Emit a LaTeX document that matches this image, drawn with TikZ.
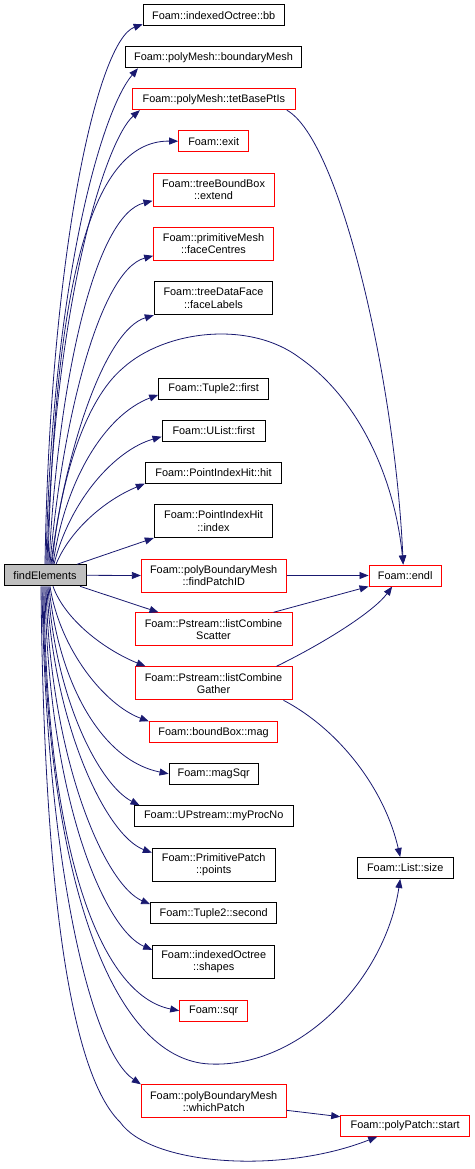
\documentclass[tikz,border=0pt]{standalone}
\usepackage{fontspec}
\setmainfont{Liberation Sans}
\usetikzlibrary{arrows.meta}
\definecolor{edgeblue}{HTML}{191970}
\definecolor{nodered}{HTML}{FF0000}

\begin{document}
\begin{tikzpicture}[x=1pt, y=-1pt,
    fn/.style={draw=black, line width=1pt, inner xsep=4pt, inner ysep=2pt,
        minimum height=21pt, align=center, font=\fontsize{10.9}{12.4}\selectfont},
    fnred/.style={fn, draw=nodered},
    two/.style={minimum height=33pt},
    call/.style={draw=edgeblue, line width=0.8pt, -{Triangle[length=9pt,width=7pt]}}]
    \useasboundingbox (0,0) rectangle (474,1169);

    % Caller
    \node[fn, fill=black!25, minimum width=82pt] (fe) at (45,575.3) {findElements};

    % Callees
    \node[fn, minimum width=141pt] (bb) at (213.7,15.3) {Foam::indexedOctree::bb};
    \node[fn, minimum width=176pt] (bm) at (213.5,57.3) {Foam::polyMesh::boundaryMesh};
    \node[fnred, minimum width=163pt] (tet) at (213.8,99.2) {Foam::polyMesh::tetBasePtIs};
    \node[fnred, minimum width=70pt] (exit) at (213.7,141.2) {Foam::exit};
    \node[fnred, two, minimum width=121pt] (extend) at (213.5,189.8) {Foam::treeBoundBox\\::extend};
    \node[fnred, two, minimum width=119.6pt] (fc) at (213.5,243.8) {Foam::primitiveMesh\\::faceCentres};
    \node[fn, two, minimum width=118.4pt] (fl) at (213.5,298.2) {Foam::treeDataFace\\::faceLabels};
    \node[fn, minimum width=110pt] (tfirst) at (213.7,388.8) {Foam::Tuple2::first};
    \node[fn, minimum width=103.3pt] (ufirst) at (213.7,430.7) {Foam::UList::first};
    \node[fn, minimum width=136.4pt] (hit) at (213.5,472.7) {Foam::PointIndexHit::hit};
    \node[fn, two, minimum width=118.4pt] (index) at (213.5,521) {Foam::PointIndexHit\\::index};
    \node[fnred, two, minimum width=144.7pt] (fpid) at (213.7,575.5) {Foam::polyBoundaryMesh\\::findPatchID};
    \node[fnred, two, minimum width=157pt] (scatter) at (213.5,629.3) {Foam::Pstream::listCombine\\Scatter};
    \node[fnred, two, minimum width=157pt] (gather) at (213.5,683.3) {Foam::Pstream::listCombine\\Gather};
    \node[fnred, minimum width=128.4pt] (bbmag) at (213.5,732.3) {Foam::boundBox::mag};
    \node[fn, minimum width=89.3pt] (magsqr) at (213.7,773.8) {Foam::magSqr};
    \node[fn, minimum width=159.3pt] (procno) at (213.7,816.3) {Foam::UPstream::myProcNo};
    \node[fn, two, minimum width=122.7pt] (points) at (213.7,864.7) {Foam::PrimitivePatch\\::points};
    \node[fn, minimum width=126pt] (second) at (213.7,913.2) {Foam::Tuple2::second};
    \node[fn, two, minimum width=122pt] (shapes) at (213.7,961.8) {Foam::indexedOctree\\::shapes};
    \node[fnred, minimum width=68pt] (sqr) at (213.7,1010.7) {Foam::sqr};
    \node[fnred, two, minimum width=144.7pt] (which) at (213.7,1101.3) {Foam::polyBoundaryMesh\\::whichPatch};

    % Second level
    \node[fnred, minimum width=72.3pt] (endl) at (405.2,575.5) {Foam::endl};
    \node[fn, minimum width=96.3pt] (size) at (405.2,868) {Foam::List::size};
    \node[fnred, minimum width=129pt] (start) at (405.2,1125.7) {Foam::polyPatch::start};

    % Calls leaving the top of findElements
    \draw[call] (fe.north) .. controls (50,250) and (98,40) .. ([yshift=-9pt]bb.west);
    \draw[call] ([xshift=1pt]fe.north) .. controls (52,280) and (102,110) .. ([xshift=13pt]bm.south west);
    \draw[call] ([xshift=2pt]fe.north) .. controls (54,300) and (106,140) .. ([xshift=8pt]tet.south west);
    \draw[call] ([xshift=3pt]fe.north) .. controls (54,320) and (82,140) .. (exit.west);
    \draw[call] ([xshift=4pt]fe.north) .. controls (58,380) and (95,215) .. ([yshift=-11pt]extend.west);
    \draw[call] ([xshift=5pt]fe.north) .. controls (62,420) and (100,270) .. ([yshift=-12pt]fc.west);
    \draw[call] ([xshift=6pt]fe.north) .. controls (65,450) and (105,330) .. (fl.south west);
    \draw[call] ([xshift=7pt]fe.north) .. controls (60,480) and (85,400) .. (123,368)
        .. controls (165,330) and (250,320) .. (300,358)
        .. controls (360,400) and (395,480) .. ([xshift=-2pt]endl.north);
    \draw[call] ([xshift=8pt]fe.north) .. controls (65,480) and (105,415) .. ([yshift=-6pt]tfirst.west);
    \draw[call] ([xshift=9pt]fe.north) .. controls (70,500) and (115,450) .. ([yshift=-6pt]ufirst.west);
    \draw[call] ([xshift=11pt]fe.north) .. controls (70,530) and (105,500) .. (hit.south west);
    \draw[call] ([xshift=32pt]fe.north) -- (index.south west);
    \draw[call] (fe.east) -- (fpid.west);

    % Calls leaving the bottom of findElements
    \draw[call] ([xshift=35pt]fe.south) -- ([xshift=-55pt]scatter.north);
    \draw[call] ([xshift=8pt]fe.south) .. controls (65,620) and (105,650) .. ([xshift=-68pt]gather.north);
    \draw[call] ([xshift=5pt]fe.south) .. controls (60,650) and (105,705) .. (bbmag.north west);
    \draw[call] ([xshift=4pt]fe.south) .. controls (58,680) and (100,760) .. (magsqr.west);
    \draw[call] ([xshift=3pt]fe.south) .. controls (55,700) and (100,785) .. ([xshift=6pt]procno.north west);
    \draw[call] ([xshift=2pt]fe.south) .. controls (52,720) and (105,835) .. ([yshift=-5pt]points.north west);
    \draw[call] ([xshift=1pt]fe.south) .. controls (50,760) and (105,885) .. ([yshift=-2pt]second.north west);
    \draw[call] (fe.south) .. controls (48,800) and (105,930) .. ([yshift=-5pt]shapes.north west);
    \draw[call] ([xshift=-1pt]fe.south) .. controls (46,850) and (100,995) .. (sqr.west);
    \draw[call] ([xshift=-2pt]fe.south) .. controls (45,870) and (110,1060) .. (210,1064)
        .. controls (300,1068) and (385,980) .. ([xshift=-5pt]size.south);
    \draw[call] ([xshift=-3pt]fe.south) .. controls (46,860) and (90,1050) .. (which.north west);
    \draw[call] ([xshift=-4pt]fe.south) .. controls (44,900) and (72,1075) .. (120,1122)
        .. controls (150,1165) and (280,1175) .. ([xshift=-28pt]start.south);

    % Calls between callees
    \draw[call] ([xshift=73pt]tet.south) .. controls (340,140) and (395,380) .. ([xshift=-2pt]endl.north);
    \draw[call] (fpid.east) -- (endl.west);
    \draw[call] ([xshift=60pt]scatter.north) -- (endl.south west);
    \draw[call] ([xshift=63pt]gather.north) .. controls (330,640) and (375,610) .. ([xshift=-13pt]endl.south);
    \draw[call] ([xshift=70pt]gather.south) .. controls (340,730) and (385,790) .. ([xshift=-5pt]size.north);
    \draw[call] ([yshift=-9pt]which.east) -- ([yshift=-2pt]start.north west);
\end{tikzpicture}
\end{document}
